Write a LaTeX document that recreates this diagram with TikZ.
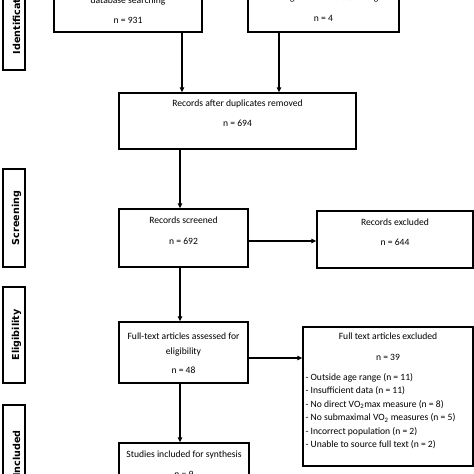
\documentclass[tikz,border=0pt]{standalone}
\usepackage{fontspec}
\setmainfont{Carlito}
\newfontfamily\sidefont{DejaVu Sans}
\usetikzlibrary{arrows.meta,calc}
\tikzset{
  box/.style={draw=black, line width=1.4bp, inner sep=0pt, fill=white},
  sidebox/.style={draw=black, line width=1.5bp, inner sep=0pt, minimum width=22bp, fill=white},
  sidetxt/.style={rotate=90, inner sep=0pt, font=\sidefont\bfseries\fontsize{9.6bp}{10bp}\selectfont},
  txt/.style={inner sep=0pt, anchor=base, font=\fontsize{9.6bp}{12bp}\selectfont, text=black},
  ltxt/.style={txt, anchor=base west},
  arr/.style={line width=1.4bp, -{Triangle[length=5bp,width=4.5bp]}}
}
\begin{document}
\begin{tikzpicture}[x=1bp,y=-1bp]
\useasboundingbox (0,0) rectangle (474,474);
\clip (0,0) rectangle (474,474);
% side labels
\node[sidebox, minimum height=98bp] (s1) at (14,21) {};
\node[sidetxt] (s1t) at ($(s1.center)+(2.5,-3)$) {Identification};
\node[sidebox, minimum height=98bp] (s2) at (14,218) {};
\node[sidetxt] (s2t) at ($(s2.center)+(2.5,0)$) {Screening};
\node[sidebox, minimum height=96bp] (s3) at (14,335) {};
\node[sidetxt] (s3t) at ($(s3.center)+(2.5,0)$) {Eligibility};
\node[sidebox, minimum height=97bp] (s4) at (14,453.5) {};
\node[sidetxt] (s4t) at ($(s4.center)+(2.5,0)$) {Included};
% boxes
\node[box, minimum width=148bp, minimum height=62bp] (A) at (128,1) {};
\node[box, minimum width=151bp, minimum height=62bp] (B) at (323.5,1) {};
\node[box, minimum width=237bp, minimum height=56bp] (C) at (237.5,121) {};
\node[box, minimum width=129bp, minimum height=58bp] (D) at (183.5,238) {};
\node[box, minimum width=156bp, minimum height=57bp] (E) at (395,239.5) {};
\node[box, minimum width=129bp, minimum height=61bp] (F) at (183.5,352.5) {};
\node[box, minimum width=170bp, minimum height=139bp] (G) at (388,396.5) {};
\node[box, minimum width=130bp, minimum height=67bp] (H) at (184,476.5) {};
% texts
\node[txt] (A1) at ($(A.north)+(0,19)$) {Records identified through};
\node[txt] (A2) at ($(A.north)+(0,34)$) {database searching};
\node[txt] (A3) at ($(A.north)+(0,54)$) {n = 931};
\node[txt] (B1) at ($(B.north)+(0,16)$) {Additional records identified};
\node[txt] (B2) at ($(B.north)+(0,31)$) {through reference searching};
\node[txt] (B3) at ($(B.north)+(0,52)$) {n = 4};
\node[txt] (C1) at ($(C.north)+(0,14)$) {Records after duplicates removed};
\node[txt] (C2) at ($(C.north)+(0,34)$) {n = 694};
\node[txt] (D1) at ($(D.north)+(0,15)$) {Records screened};
\node[txt] (D2) at ($(D.north)+(0,36)$) {n = 692};
\node[txt] (E1) at ($(E.north)+(0,15)$) {Records excluded};
\node[txt] (E2) at ($(E.north)+(0,35)$) {n = 644};
\node[txt] (F1) at ($(F.north)+(0,18)$) {Full-text articles assessed for};
\node[txt] (F2) at ($(F.north)+(0,33)$) {eligibility};
\node[txt] (F3) at ($(F.north)+(0,52)$) {n = 48};
\node[txt] (G1) at ($(G.north)+(0,13)$) {Full text articles excluded};
\node[txt] (G2) at ($(G.north)+(0,34)$) {n = 39};
\node[ltxt] (G3) at ($(G.north west)+(3,54)$) {- Outside age range (n = 11)};
\node[ltxt] (G4) at ($(G.north west)+(3,67.5)$) {- Insufficient data (n = 11)};
\node[ltxt] (G5) at ($(G.north west)+(3,81)$) {- No direct VO\textsubscript{2}max measure (n = 8)};
\node[ltxt] (G6) at ($(G.north west)+(3,94.5)$) {- No submaximal VO\textsubscript{2} measures (n = 5)};
\node[ltxt] (G7) at ($(G.north west)+(3,108)$) {- Incorrect population (n = 2)};
\node[ltxt] (G8) at ($(G.north west)+(3,121.5)$) {- Unable to source full text (n = 2)};
\node[txt] (H1) at ($(H.north)+(0,15)$) {Studies included for synthesis};
\node[txt] (H2) at ($(H.north)+(0,35)$) {n = 9};
% arrow anchor points
\coordinate (a1) at ($(A.south)+(54,0)$);
\coordinate (b1) at ($(B.south)+(-44.5,0)$);
\coordinate (d1) at ($(D.north)+(-3.5,0)$);
\coordinate (d2) at ($(D.east)+(0,3)$);
\coordinate (d3) at ($(D.south)+(-3.5,0)$);
\coordinate (f1) at ($(F.north)+(-3.5,0)$);
\coordinate (f2) at ($(F.east)+(0,5.5)$);
\coordinate (f3) at ($(F.south)+(-3.5,0)$);
\coordinate (h1) at ($(H.north)+(-4,0)$);
% arrows
\draw[arr] (a1) -- (a1 |- C.north);
\draw[arr] (b1) -- (b1 |- C.north);
\draw[arr] (d1 |- C.south) -- (d1);
\draw[arr] (d2) -- (d2 -| E.west);
\draw[arr] (d3) -- (f1);
\draw[arr] (f2) -- (f2 -| G.west);
\draw[arr] (f3) -- (h1);
\end{tikzpicture}
\end{document}
